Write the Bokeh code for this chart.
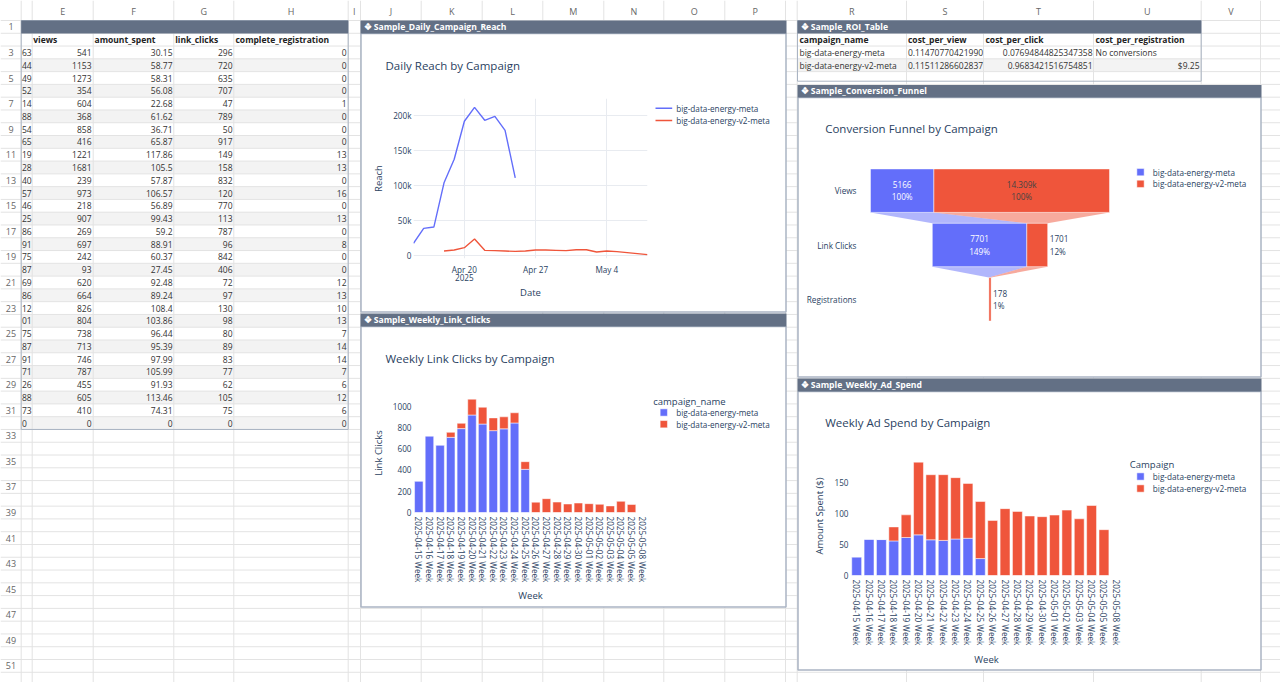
import pandas as pd
from bokeh.plotting import figure
from bokeh.models import (Range1d, FactorRange, FixedTicker, NumeralTickFormatter, GridBox, Column,
                          ColumnDataSource)
from bokeh.core.properties import value
from bokeh.embed import file_html
from bokeh.resources import INLINE

# ---------------------------------------------------------------- data
M = "big-data-energy-meta"
V = "big-data-energy-v2-meta"
campaigns = [M, V]

row_id_tail = ["63", "44", "49", "52", "14", "88", "54", "65", "19", "28", "40", "57", "46", "25", "86",
               "91", "75", "87", "69", "86", "12", "01", "75", "87", "91", "71", "26", "88", "73", "0"]
row_day = ["2025-04-15", "2025-04-16", "2025-04-17", "2025-04-18", "2025-04-18", "2025-04-19", "2025-04-19",
           "2025-04-20", "2025-04-20", "2025-04-21", "2025-04-21", "2025-04-22", "2025-04-22", "2025-04-23",
           "2025-04-23", "2025-04-24", "2025-04-24", "2025-04-25", "2025-04-25", "2025-04-26", "2025-04-27",
           "2025-04-28", "2025-04-29", "2025-04-30", "2025-05-01", "2025-05-02", "2025-05-03", "2025-05-04",
           "2025-05-05", "2025-05-08"]
row_campaign = [M, M, M, M, V, M, V, M, V, V, M, V, M, V, M, V, M, M, V] + [V] * 11
views = [541, 1153, 1273, 354, 604, 368, 858, 416, 1221, 1681, 239, 973, 218, 907, 269, 697, 242, 93, 620,
         664, 826, 804, 738, 713, 746, 787, 455, 605, 410, 0]
amount_spent = [30.15, 58.77, 58.31, 56.08, 22.68, 61.62, 36.71, 65.87, 117.86, 105.5, 57.87, 106.57, 56.89,
                99.43, 59.2, 88.91, 60.37, 27.45, 92.48, 89.24, 108.4, 103.86, 96.44, 95.39, 97.99, 105.99,
                91.93, 113.46, 74.31, 0]
link_clicks = [296, 720, 635, 707, 47, 789, 50, 917, 149, 158, 832, 120, 770, 113, 787, 96, 842, 406, 72, 97,
               130, 98, 80, 89, 83, 77, 62, 105, 75, 0]
complete_registration = [0, 0, 0, 0, 1, 0, 0, 0, 13, 13, 0, 16, 0, 13, 0, 8, 0, 0, 12, 13, 10, 13, 7, 14, 14,
                         7, 6, 12, 6, 0]
sheet_headers = ["views", "amount_spent", "link_clicks", "complete_registration"]

reach_meta_days = ["2025-04-15", "2025-04-16", "2025-04-17", "2025-04-18", "2025-04-19", "2025-04-20",
                   "2025-04-21", "2025-04-22", "2025-04-23", "2025-04-24", "2025-04-25"]
reach_meta = [16700, 38100, 40000, 103300, 137000, 191400, 211300, 192800, 198500, 178500, 110400]
reach_v2_days = ["2025-04-18", "2025-04-19", "2025-04-20", "2025-04-21", "2025-04-22", "2025-04-23",
                 "2025-04-24", "2025-04-25", "2025-04-26", "2025-04-27", "2025-04-28", "2025-04-29",
                 "2025-04-30", "2025-05-01", "2025-05-02", "2025-05-03", "2025-05-04", "2025-05-05",
                 "2025-05-08"]
reach_v2 = [5700, 7100, 10500, 22800, 6700, 6200, 5700, 5200, 5700, 7100, 7100, 6700, 6200, 7600, 7600,
            4300, 5700, 4800, 500]
reach_ticks = ["2025-04-20", "2025-04-27", "2025-05-04"]
reach_tick_labels = ["Apr 20\n2025", "Apr 27", "May 4"]
reach_y_limits = (-5000, 224000)

roi_headers = ["campaign_name", "cost_per_view", "cost_per_click", "cost_per_registration"]
roi_rows = [["big-data-energy-meta", "0.11470770421990", "0.07694844825347358", "No conversions"],
            ["big-data-energy-v2-meta", "0.11511286602837", "0.9683421516754851", "$9.25"]]

funnel_stages = ["Views", "Link Clicks", "Registrations"]
funnel_cols = ["views", "clicks", "reg"]

chart_titles = ["Daily Reach by Campaign", "Weekly Link Clicks by Campaign",
                "Conversion Funnel by Campaign", "Weekly Ad Spend by Campaign"]
panel_names = ["Sample_Daily_Campaign_Reach", "Sample_Weekly_Link_Clicks", "Sample_ROI_Table",
               "Sample_Conversion_Funnel", "Sample_Weekly_Ad_Spend"]

# ---------------------------------------------------------------- styling
FONT = "Open Sans"
TXT = "#2a3f5f"
BLUE = "#636EFA"
RED = "#EF553B"
COLORS = {M: BLUE, V: RED}
INSIDE_TXT = {M: "white", V: "#444444"}
SLATE = "#637085"
BORDER = "#aab4c3"
GRIDC = "#e3e3e3"

df = pd.DataFrame({"day": row_day, "campaign": row_campaign, "views": views, "spent": amount_spent,
                   "clicks": link_clicks, "reg": complete_registration})
df["week"] = df["day"] + " Week"
weeks = sorted(df["week"].unique())


def weekly(col):
    t = df.pivot_table(index="week", columns="campaign", values=col, aggfunc="sum").reindex(weeks).fillna(0)
    return {c: (t[c].tolist() if c in t.columns else [0] * len(weeks)) for c in campaigns}


def style_axes(p):
    for ax in p.axis:
        ax.axis_line_color = None
        ax.major_tick_line_color = None
        ax.minor_tick_line_color = None
        ax.major_tick_out = 0
        ax.major_tick_in = 0
        ax.major_label_text_font = FONT
        ax.major_label_text_font_size = "8.2px"
        ax.major_label_text_color = TXT
        ax.axis_label_text_font = FONT
        ax.axis_label_text_font_size = "9.5px"
        ax.axis_label_text_font_style = "normal"
        ax.axis_label_text_color = TXT


def chart(w, h, l, r, t, b, xr, yr, **kw):
    p = figure(width=w, height=h, x_range=xr, y_range=yr, toolbar_location=None, output_backend="svg",
               title=None, min_border_left=l, min_border_right=r, min_border_top=t, min_border_bottom=b, **kw)
    p.outline_line_color = None
    p.background_fill_alpha = 0
    p.border_fill_alpha = 0
    return p


# ---------------------------------------------------------------- chart 1: daily reach
base_day = pd.Timestamp(min(reach_meta_days + reach_v2_days))
last_day = pd.Timestamp(max(reach_meta_days + reach_v2_days))


def dnum(s):
    return (pd.Timestamp(s) - base_day).days


c1 = chart(424, 278, 52, 138, 65, 53, Range1d(0, dnum(str(last_day.date()))), Range1d(*reach_y_limits))
c1.line([dnum(d) for d in reach_meta_days], reach_meta, line_color=BLUE, line_width=1.4)
c1.line([dnum(d) for d in reach_v2_days], reach_v2, line_color=RED, line_width=1.4)
c1.xaxis.ticker = FixedTicker(ticks=[dnum(d) for d in reach_ticks])
c1.xaxis.major_label_overrides = {dnum(d): lab for d, lab in zip(reach_ticks, reach_tick_labels)}
c1.yaxis.ticker = FixedTicker(ticks=[0, 50000, 100000, 150000, 200000])
c1.yaxis.formatter = NumeralTickFormatter(format="0a")
c1.xaxis.axis_label = "Date"
c1.yaxis.axis_label = "Reach"
style_axes(c1)
c1.xaxis.major_label_text_line_height = 0.75
c1.xaxis.major_label_standoff = 5
c1.xaxis.axis_label_standoff = 0
c1.yaxis.major_label_standoff = 2
c1.yaxis.axis_label_standoff = 5
c1.grid.grid_line_color = "#e8ebf0"
c1.grid.grid_line_width = 1


# ---------------------------------------------------------------- bar charts
def bar_chart(w, h, l, r, t, b, col, ylabel, yticks, week_standoff):
    data = weekly(col)
    totals = [a + b2 for a, b2 in zip(data[M], data[V])]
    src = ColumnDataSource({"week": weeks, M: data[M], V: data[V]})
    p = chart(w, h, l, r, t, b, FactorRange(factors=weeks, range_padding=0), Range1d(0, max(totals) * 1.05))
    p.vbar_stack(campaigns, x="week", width=0.8, source=src, color=[BLUE, RED],
                 line_color="white", line_width=0.5)
    p.grid.visible = False
    p.yaxis.ticker = FixedTicker(ticks=yticks)
    p.xaxis.axis_label = "Week"
    p.yaxis.axis_label = ylabel
    style_axes(p)
    p.xaxis.major_label_orientation = -1.5707963
    p.xaxis.major_label_standoff = 4
    p.xaxis.axis_label_standoff = week_standoff
    p.yaxis.major_label_standoff = 2
    p.yaxis.axis_label_standoff = 5
    return p


c2 = bar_chart(424, 280, 52, 138, 67, 94, "clicks", "Link Clicks", [0, 200, 400, 600, 800, 1000], 4)
c4 = bar_chart(462, 278, 52, 138, 65, 94, "spent", "Amount Spent ($)", [0, 50, 100, 150], 5)

# ---------------------------------------------------------------- chart 3: funnel
tot = df.groupby("campaign")[funnel_cols].sum()
stage_totals = [sum(tot.loc[c, col] for c in campaigns) for col in funnel_cols]
max_total = max(stage_totals)
half = max_total / 2 * 1.05
c3 = chart(462, 279, 66, 145, 66, 50, Range1d(-half, half), Range1d(len(funnel_stages) - 0.5, -0.5),
           x_axis_location=None)
c3.grid.visible = False
segs = {c: [] for c in campaigns}
for i, col in enumerate(funnel_cols):
    left = -stage_totals[i] / 2
    for c in campaigns:
        v = tot.loc[c, col]
        segs[c].append((left, left + v, v))
        left += v

for c in campaigns:
    xs, ys = [], []
    for i in range(len(funnel_cols) - 1):
        a0, a1, _ = segs[c][i]
        b0, b1, _ = segs[c][i + 1]
        xs.append([a0, a1, b1, b0])
        ys.append([i + 0.4, i + 0.4, i + 0.6, i + 0.6])
    c3.patches(xs, ys, fill_color=COLORS[c], fill_alpha=0.5, line_color=None)
for c in campaigns:
    idx = [i for i, s in enumerate(segs[c]) if s[2] > 0]
    c3.hbar(y=idx, left=[segs[c][i][0] for i in idx], right=[segs[c][i][1] for i in idx],
            height=0.8, fill_color=COLORS[c], line_color="white", line_width=0.5)


def fmt_num(v):
    return f"{v / 1000:.3f}k" if v >= 10000 else str(int(v))


for c in campaigns:
    first = segs[c][0][2]
    ins_x, ins_y, ins_t, out_x, out_y, out_t = [], [], [], [], [], []
    for i, (a, b2, v) in enumerate(segs[c]):
        if v <= 0:
            continue
        lab = f"{fmt_num(v)}\n{round(100 * v / first)}%"
        if v / max_total > 0.1:
            ins_x.append((a + b2) / 2); ins_y.append(i); ins_t.append(lab)
        else:
            out_x.append(b2); out_y.append(i); out_t.append(lab)
    if ins_t:
        c3.text(ins_x, ins_y, text=ins_t, text_font=value(FONT), text_font_size="8.2px",
                text_color=INSIDE_TXT[c], text_align="center", text_baseline="middle", text_line_height=1.15)
    if out_t:
        c3.text(out_x, out_y, text=out_t, text_font=value(FONT), text_font_size="8.2px", x_offset=2,
                text_color=TXT, text_align="left", text_baseline="middle", text_line_height=1.15)

c3.yaxis.ticker = FixedTicker(ticks=list(range(len(funnel_stages))))
c3.yaxis.major_label_overrides = {i: s for i, s in enumerate(funnel_stages)}
style_axes(c3)
c3.yaxis.major_label_standoff = 8

# ---------------------------------------------------------------- background sheet (page pixels)
bg = figure(width=1280, height=682, x_range=Range1d(0, 1280), y_range=Range1d(682, 0), min_border=0,
            toolbar_location=None, output_backend="svg", x_axis_type=None, y_axis_type=None, title=None)
bg.outline_line_color = None
bg.background_fill_color = "white"
bg.border_fill_color = "white"
bg.grid.visible = False

RH = 12.78
Y0 = 20.0


def row_top(r):
    return Y0 + (r - 1) * RH


def row_mid(r):
    return Y0 + (r - 0.5) * RH


def txt(xs, ys, ts, size="8.5px", color="#222222", align="left", style="normal"):
    bg.text(x=xs, y=ys, text=ts, text_font=value(FONT), text_font_size=size, text_color=color,
            text_align=align, text_baseline="middle", text_font_style=style)


col_bounds = [20.7, 31.7, 92.7, 173.3, 233.3, 347.7, 360.0, 420.7, 481.7, 542.3, 603.3, 663.3, 724.3, 785.0,
              796.7, 906.0, 983.0, 1093.0, 1200.7, 1260.0]
col_letters = ["D", "E", "F", "G", "H", "I", "J", "K", "L", "M", "N", "O", "P", "Q", "R", "S", "T", "U", "V"]

n_rows = len(row_id_tail)
even_rows = [r for r in range(4, 3 + n_rows, 2)]
bg.quad(left=20.7, right=347.7, top=[row_top(r) for r in even_rows], bottom=[row_top(r + 1) for r in even_rows],
        fill_color="#f3f3f3", line_color=None)
bg.quad(left=797, right=1200.7, top=row_top(4), bottom=row_top(5), fill_color="#f3f3f3", line_color=None)

hy = [Y0 + k * RH for k in range(0, 53)]
bg.segment(x0=0, x1=1280, y0=hy, y1=hy, line_color=GRIDC, line_width=1)
bg.segment(x0=col_bounds, x1=col_bounds, y0=0, y1=682, line_color=GRIDC, line_width=1)

bg.quad(left=20.7, right=347.7, top=20, bottom=row_top(3 + n_rows), fill_color=None, line_color=BORDER,
        line_width=1)
bg.quad(left=797, right=1200.7, top=20, bottom=80.7, fill_color=None, line_color=BORDER, line_width=1)

# panels, header bars
bg.quad(left=[360.5, 360.5, 797.5, 797.5], right=[785.5, 785.5, 1260.5, 1260.5],
        top=[33, 326, 97, 391], bottom=[311.5, 606.5, 376.5, 669.5],
        fill_color="white", line_color=BORDER, line_width=1.5)
bg.quad(left=[20.7, 360, 360, 797, 797, 797], right=[347.7, 786, 786, 1200.7, 1261, 1261],
        top=[20, 20, 313, 20, 84.5, 378], bottom=[33, 33, 326, 33, 97, 391],
        fill_color=SLATE, line_color=None)
txt([363, 363, 800, 800, 800], [26.6, 319.6, 26.6, 90.8, 384.6],
    ["\u2756 " + n for n in panel_names], size="8.6px", color="white", style="bold")

# column letters and row numbers
lx, lt = [], []
for i, L in enumerate(col_letters):
    if L in ("D", "Q"):
        continue
    lx.append((col_bounds[i] + col_bounds[i + 1]) / 2)
    lt.append(L)
txt(lx, [11] * len(lx), lt, size="9px", color="#666666", align="center")
rn = list(range(1, 52, 2))
txt([10.5] * len(rn), [row_mid(r) for r in rn], [str(r) for r in rn], size="9px", color="#666666",
    align="center")

# left table contents
txt([32.7, 94, 174.7, 235], [row_mid(2)] * 4, sheet_headers, style="bold")
ym = [row_mid(r) for r in range(3, 3 + n_rows)]
txt([21.5] * n_rows, ym, row_id_tail, color="#333333")
txt([91] * n_rows, ym, [str(v) for v in views], color="#333333", align="right")
txt([172] * n_rows, ym, [f"{v:g}" for v in amount_spent], color="#333333", align="right")
txt([232] * n_rows, ym, [str(v) for v in link_clicks], color="#333333", align="right")
txt([346] * n_rows, ym, [str(v) for v in complete_registration], color="#333333", align="right")

# ROI table
txt([799, 907.5, 985, 1095], [row_mid(2)] * 4, roi_headers, style="bold")
for k, row in enumerate(roi_rows):
    y = row_mid(3 + k)
    txt([799, 907.5], [y, y], row[:2], color="#333333")
    txt([1092], [y], [row[2]], color="#333333", align="right")
    if row[3].startswith("$"):
        txt([1199], [y], [row[3]], color="#333333", align="right")
    else:
        txt([1095], [y], [row[3]], color="#333333")

# chart titles
txt([385, 385, 824.7, 824.7], [65, 358.3, 128.3, 421.7], chart_titles, size="11.5px", color=TXT)

# legends
for k, c in enumerate(campaigns):
    y = 107.7 + k * 12.3
    bg.segment(x0=655, x1=671.7, y0=y, y1=y, line_color=COLORS[c], line_width=1.4)
txt([675.7, 675.7], [107.7, 120.0], campaigns, size="8.2px", color=TXT)

for (cx, tx, ys, title, title_xy) in [(663.3, 675.7, [412.0, 423.7], "campaign_name", (652.7, 400.7)),
                                      (1140.0, 1152.3, [171.7, 183.3], None, None),
                                      (1140.0, 1152.3, [476.0, 488.0], "Campaign", (1129.3, 464.0))]:
    bg.rect(x=[cx, cx], y=ys, width=7.3, height=7.3, fill_color=[COLORS[c] for c in campaigns],
            line_color="white", line_width=0.5)
    txt([tx, tx], ys, campaigns, size="8.2px", color=TXT)
    if title:
        txt([title_xy[0]], [title_xy[1]], [title], size="9.5px", color=TXT)

# ---------------------------------------------------------------- layout
row_heights = [33, 64, 214, 15, 50, 15, 215, 63, 13]
col_widths = [361, 424, 13, 462, 20]


def boxed(p):
    return Column(children=[p], width=p.width, height=p.height, spacing=0)


layout = GridBox(children=[(bg, 0, 0, 9, 5), (boxed(c1), 1, 1, 2, 1), (boxed(c2), 4, 1, 3, 1),
                           (boxed(c3), 2, 3, 3, 1), (boxed(c4), 6, 3, 2, 1)],
                 rows=[f"{h}px" for h in row_heights], cols=[f"{w}px" for w in col_widths], spacing=0)

open("out.html", "w").write(file_html(layout, INLINE))
